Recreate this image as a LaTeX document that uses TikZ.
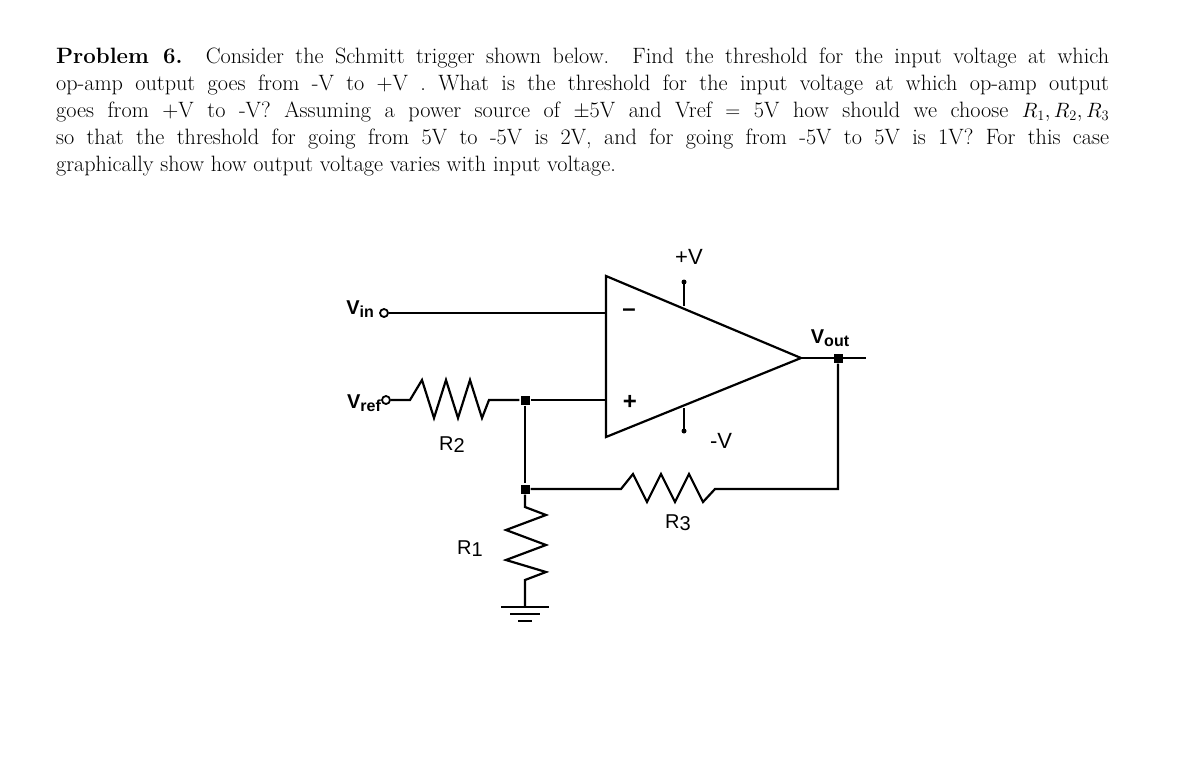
\documentclass[tikz,border=0pt]{standalone}
\usepackage{fontspec}
\newfontfamily\cfont{Liberation Sans}
\begin{document}
\begin{tikzpicture}[x=1pt,y=-1pt,line width=2.2pt,
  txtline/.style={anchor=base west,inner sep=0pt,font=\fontsize{22.2}{27}\selectfont},
  lbl/.style={font=\cfont\fontsize{20}{20}\selectfont\bfseries,inner sep=0pt},
  jdot/.style={fill,minimum size=9pt,inner sep=0pt,draw=none},
  term/.style={circle,draw,line width=1.8pt,minimum size=8pt,inner sep=0pt,fill=white}]
\useasboundingbox (0,0) rectangle (1192,764);
% text
\node[txtline] (t1) at (55,63) {\makebox[1053pt][s]{\textbf{Problem 6.} Consider the Schmitt trigger shown below. Find the threshold for the input voltage at which}};
\node[txtline] (t2) at (55,90) {\makebox[1053pt][s]{op-amp output goes from -V to +V . What is the threshold for the input voltage at which op-amp output}};
\node[txtline] (t3) at (55,117) {\makebox[1053pt][s]{goes from +V to -V? Assuming a power source of $\pm$5V and Vref $=$ 5V how should we choose $R_1,R_2,R_3$}};
\node[txtline] (t4) at (55,144) {\makebox[1053pt][s]{so that the threshold for going from 5V to -5V is 2V, and for going from -5V to 5V is 1V? For this case}};
\node[txtline] (t5) at (55,171) {graphically show how output voltage varies with input voltage.};
% op-amp
\coordinate (tl) at (606,276);
\coordinate (bl) at (606,437);
\coordinate (tip) at (801,358);
\draw[line join=miter] (tl) -- (tip) -- (bl) -- cycle;
\node[lbl,font=\cfont\fontsize{24}{24}\selectfont\bfseries] (minus) at (629,313) {\textendash};
\node[lbl,font=\cfont\fontsize{24}{24}\selectfont\bfseries] (plus) at (630,402) {+};
\coordinate (pvA) at (684,282); \coordinate (pvB) at (684,306);
\coordinate (nvA) at (684,408); \coordinate (nvB) at (684,431);
\draw[line width=1.6pt] (pvA) -- (pvB); \fill (pvA) circle (2.5pt);
\draw[line width=1.6pt] (nvA) -- (nvB); \fill (nvB) circle (2.5pt);
\node[lbl,font=\cfont\fontsize{22}{22}\selectfont] (pv) at (689,257) {+V};
\node[lbl,font=\cfont\fontsize{22}{22}\selectfont] (nv) at (721,441) {-V};
% inputs
\node[term] (vin) at (384,313) {};
\node[term] (vref) at (386,400) {};
\node[lbl,anchor=east] (vinl) at (375,309) {V\raisebox{-3pt}{\fontsize{16}{16}\selectfont in}};
\node[lbl,anchor=east] (vrefl) at (382,403) {V\raisebox{-3pt}{\fontsize{16}{16}\selectfont ref}};
\coordinate (invin) at (606,313);
\coordinate (inplus) at (606,400);
\draw (vin) -- (invin);
\node[jdot] (j1) at (525,400) {};
\node[jdot] (j2) at (525,489) {};
\node[jdot] (jo) at (838,358) {};
\coordinate (oend) at (866,358);
\coordinate (rc) at (838,489);
% R2
\draw (vref) -- (410,400) -- (422,380) -- (434,418) -- (446,380) -- (458,418) -- (470,380) -- (482,418) -- (489,400) -- (j1);
\draw (j1) -- (inplus);
\draw (j1) -- (j2);
% R3
\draw (j2) -- (621,489) -- (633,474) -- (647,502) -- (661,474) -- (675,502) -- (689,474) -- (703,502) -- (715,489) -- (722,489) -- (rc) -- (jo);
\draw (tip) -- (oend);
% R1
\coordinate (gnd) at (525,607);
\draw (j2) -- (525,507) -- (546,515) -- (506,530) -- (546,545) -- (506,560) -- (546,572) -- (525,580) -- (gnd);
\draw (501,607) -- (549,607);
\draw (510,614) -- (540,614);
\draw (518,621) -- (532,621);
% labels
\node[lbl,font=\cfont\fontsize{20}{20}\selectfont] (r2) at (452,445) {R\raisebox{-2pt}{2}};
\node[lbl,font=\cfont\fontsize{20}{20}\selectfont] (r1) at (470,549) {R\raisebox{-2pt}{1}};
\node[lbl,font=\cfont\fontsize{20}{20}\selectfont] (r3) at (678,523) {R\raisebox{-2pt}{3}};
\node[lbl] (vout) at (830,338) {V\raisebox{-3pt}{\fontsize{16}{16}\selectfont out}};
\end{tikzpicture}
\end{document}
